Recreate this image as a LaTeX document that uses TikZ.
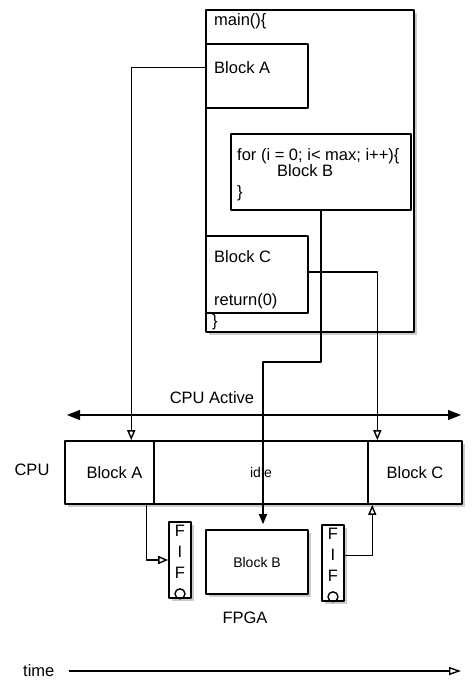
\documentclass[tikz,border=0pt]{standalone}
\usepackage{fontspec}
\setmainfont{Liberation Sans}
\usetikzlibrary{arrows.meta,shadows,calc}

\begin{document}
\begin{tikzpicture}[x=1pt, y=-1pt, font=\fontsize{16.5}{19}\selectfont, line join=round,
    box/.style={draw, line width=1.6pt, fill=white, inner sep=0pt},
    shadowbox/.style={box, drop shadow={shadow xshift=3pt, shadow yshift=-3pt, fill=black!40}},
    txt/.style={anchor=west, inner sep=0pt},
    small/.style={font=\fontsize{14}{16}\selectfont},
    wire/.style={line width=1.4pt},
    hollow/.style={-{Triangle[open, width=8pt, length=10pt]}},
    filledtip/.style={-{Triangle[width=8pt, length=10pt]}},
    fifoletters/.style={anchor=north, inner sep=0pt, align=center, font=\fontsize{16.5}{21}\selectfont}]
    \useasboundingbox (0,0) rectangle (474,692);

    % code listing
    \node[shadowbox, minimum width=208pt, minimum height=322pt] (main) at (310,171) {};
    \node[box, minimum width=102pt, minimum height=64pt] (codeA) at (257,76) {};
    \node[box, minimum width=180pt, minimum height=76pt] (codeFor) at (321,172) {};
    \node[box, minimum width=102pt, minimum height=77pt] (codeC) at (257,274.5) {};

    \node[txt] (tMain) at (214,21) {main()\{};
    \node[txt] (tA) at (214,68) {Block A};
    \node[txt] (tFor) at (237,156) {for (i = 0; i< max; i++)\{};
    \node[txt] (tB) at (277,171) {Block B};
    \node[txt] (tForEnd) at (237,193) {\}};
    \node[txt] (tC) at (214,257) {Block C};
    \node[txt] (tRet) at (214,301) {return(0)};
    \node[txt] (tEnd) at (212,322) {\}};

    % CPU time line
    \node[shadowbox, minimum width=89pt, minimum height=63pt] (cpuA) at (109.5,472.5) {\hspace{10pt}Block A};
    \node[shadowbox, small, minimum width=214pt, minimum height=63pt] (cpuIdle) at (261,472.5) {idle};
    \node[shadowbox, minimum width=94pt, minimum height=63pt] (cpuC) at (415,472.5) {Block C\hspace{18pt}};
    \node (cpuLbl) at (32,470) {CPU};

    \coordinate (actL) at (67,415); \coordinate (actR) at (461,415);
    \draw[wire, {Triangle[width=10pt, length=13pt]}-{Triangle[width=10pt, length=13pt]}] (actL) -- (actR);
    \node (actLbl) at (212,398) {CPU Active};

    % FPGA side
    \node[shadowbox, minimum width=22pt, minimum height=76pt] (fifoIn) at (180,560) {};
    \node[fifoletters] (fifoInTxt) at ([yshift=-4pt]fifoIn.north) {F\\I\\F};
    \draw[wire] ([yshift=5pt]fifoIn.south) circle (5pt);

    \node[shadowbox, small, minimum width=102pt, minimum height=64pt] (fpgaB) at (257,562) {Block B};
    \node (fpgaLbl) at (245,618) {FPGA};

    \node[shadowbox, minimum width=22pt, minimum height=76pt] (fifoOut) at (333,563) {};
    \node[fifoletters] (fifoOutTxt) at ([yshift=-4pt]fifoOut.north) {F\\I\\F};
    \draw[wire] ([yshift=5pt]fifoOut.south) circle (5pt);

    % connectors
    \draw[wire, hollow] ($(codeA.north west)!0.375!(codeA.south west)$) -| ($(cpuA.north west)!0.74!(cpuA.north east)$);
    \coordinate (bend) at (263,362);
    \draw[wire, filledtip, shorten >=5pt] (codeFor.south) |- (bend) -- (bend |- fpgaB.north);
    \draw[wire, hollow] ($(codeC.north east)!0.47!(codeC.south east)$) -| ($(cpuC.north west)!0.106!(cpuC.north east)$);
    \draw[wire, hollow] ($(cpuA.south west)!0.91!(cpuA.south east)$) |- (fifoIn.west);
    \draw[wire, hollow] ($(fifoOut.north east)!0.4!(fifoOut.south east)$) -| ($(cpuC.south west)!0.053!(cpuC.south east)$);

    % time axis
    \node[txt] (timeLbl) at (23,671) {time};
    \coordinate (timeEnd) at (461,671);
    \draw[wire, -{Triangle[open, width=8pt, length=12pt]}] ([xshift=14pt]timeLbl.east) -- (timeEnd);
\end{tikzpicture}
\end{document}
